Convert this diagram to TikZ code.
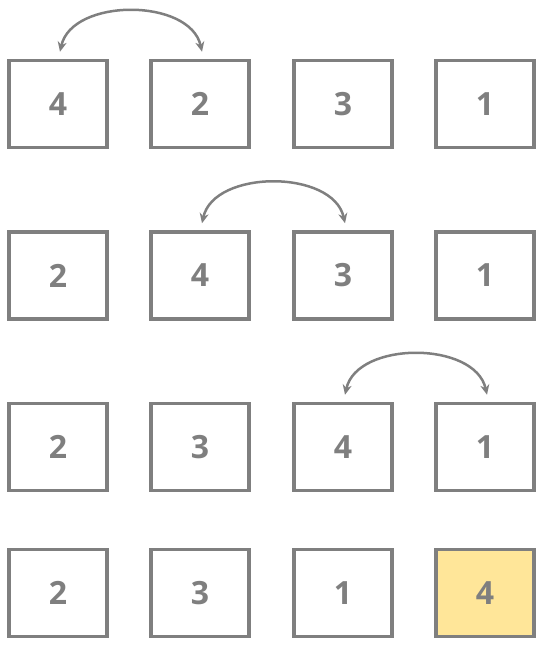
\documentclass[tikz,border=0pt]{standalone}
\usepackage{fontspec}
\setmainfont{Open Sans}
\usetikzlibrary{arrows.meta}
\definecolor{boxgray}{HTML}{7F7F7F}
\definecolor{hl}{HTML}{FFE699}
\begin{document}
\begin{tikzpicture}[x=1pt,y=-1pt,
  cell/.style={draw=boxgray, line width=3.5pt, minimum width=98pt, minimum height=87pt,
    inner sep=0pt, text=boxgray, font=\fontsize{32}{32}\selectfont\bfseries},
  swaparc/.style={draw=boxgray, line width=2.5pt,
    {Stealth[length=10pt,width=9pt]}-{Stealth[length=10pt,width=9pt]}}]
\useasboundingbox (0,0) rectangle (544,645);
% row 1
\node[cell] (a1) at (58,104) {\raisebox{-2pt}{4}};
\node[cell] (a2) at (200,104) {\raisebox{-2pt}{2}};
\node[cell] (a3) at (343,104) {\raisebox{-2pt}{3}};
\node[cell] (a4) at (485,104) {\raisebox{-2pt}{1}};
% row 2
\node[cell] (b1) at (58,275.5) {\raisebox{-2pt}{2}};
\node[cell] (b2) at (200,275.5) {\raisebox{-2pt}{4}};
\node[cell] (b3) at (343,275.5) {\raisebox{-2pt}{3}};
\node[cell] (b4) at (485,275.5) {\raisebox{-2pt}{1}};
% row 3
\node[cell] (c1) at (58,447) {\raisebox{-2pt}{2}};
\node[cell] (c2) at (200,447) {\raisebox{-2pt}{3}};
\node[cell] (c3) at (343,447) {\raisebox{-2pt}{4}};
\node[cell] (c4) at (485,447) {\raisebox{-2pt}{1}};
% row 4
\node[cell] (d1) at (58,593) {\raisebox{-2pt}{2}};
\node[cell] (d2) at (200,593) {\raisebox{-2pt}{3}};
\node[cell] (d3) at (343,593) {\raisebox{-2pt}{1}};
\node[cell, fill=hl] (d4) at (485,593) {\raisebox{-2pt}{4}};
% arcs
\draw[swaparc] ([xshift=2pt,yshift=7pt]a1.north) .. controls +(12,-54) and +(-12,-54) .. ([xshift=2pt,yshift=7pt]a2.north);
\draw[swaparc] ([xshift=2pt,yshift=7pt]b2.north) .. controls +(12,-54) and +(-12,-54) .. ([xshift=2pt,yshift=7pt]b3.north);
\draw[swaparc] ([xshift=2pt,yshift=7pt]c3.north) .. controls +(12,-54) and +(-12,-54) .. ([xshift=2pt,yshift=7pt]c4.north);
\end{tikzpicture}
\end{document}
